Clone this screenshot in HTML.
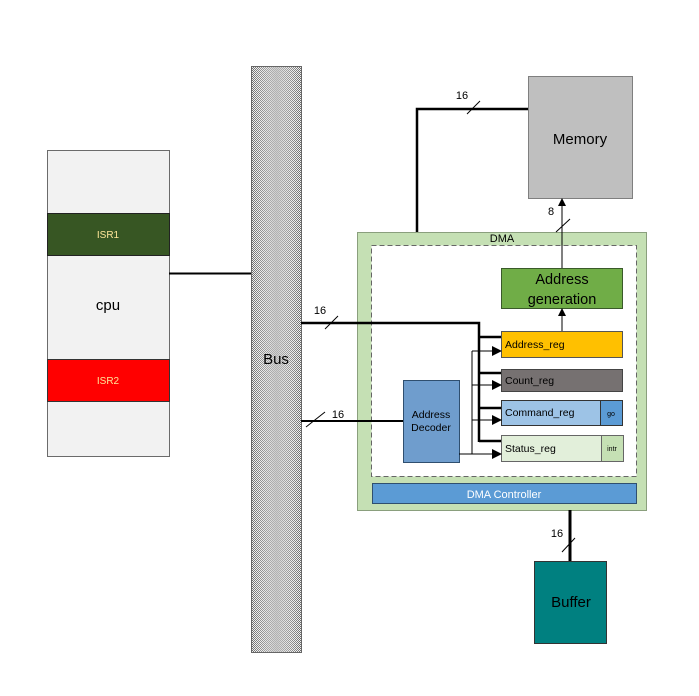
<!DOCTYPE html>
<html><head><meta charset="utf-8"><style>
html,body{margin:0;padding:0;background:#fff;}
svg{display:block;}
text{font-family:"Liberation Sans",sans-serif;}
</style></head><body>
<svg width="699" height="696" viewBox="0 0 699 696" xmlns="http://www.w3.org/2000/svg">
<defs>
<pattern id="chk" width="2" height="2" patternUnits="userSpaceOnUse">
<rect width="2" height="2" fill="#eeeeee"/>
<rect width="1" height="1" fill="#6a6a6a"/>
<rect x="1" y="1" width="1" height="1" fill="#6a6a6a"/>
</pattern>
<linearGradient id="bg" x1="0" x2="1" y1="0" y2="0">
<stop offset="0" stop-color="#fff" stop-opacity="0"/>
<stop offset="0.5" stop-color="#c4c4c4" stop-opacity="0.8"/>
<stop offset="1" stop-color="#fff" stop-opacity="0"/>
</linearGradient>
<marker id="ar" markerWidth="8" markerHeight="8" refX="7" refY="4" orient="auto" markerUnits="userSpaceOnUse">
<path d="M0,0 L8,4 L0,8 z" fill="#000"/>
</marker>
<marker id="ar2" markerWidth="10" markerHeight="10" refX="9" refY="5" orient="auto" markerUnits="userSpaceOnUse">
<path d="M0,0 L10,5 L0,10 z" fill="#000"/>
</marker>
</defs>

<!-- CPU -->
<rect x="47.5" y="150.5" width="122" height="306" fill="#f2f2f2" stroke="#6b6b6b"/>
<rect x="47.5" y="213.5" width="122" height="42" fill="#375623" stroke="#222"/>
<text x="108" y="238" font-size="10" fill="#ffe699" text-anchor="middle">ISR1</text>
<text x="108" y="310" font-size="15" fill="#000" text-anchor="middle">cpu</text>
<rect x="47.5" y="359.5" width="122" height="42" fill="#ff0000" stroke="#333"/>
<text x="108" y="384" font-size="10" fill="#ffe699" text-anchor="middle">ISR2</text>
<line x1="169" y1="273.5" x2="251" y2="273.5" stroke="#000" stroke-width="2"/>

<!-- Bus -->
<rect x="251.5" y="66.5" width="50" height="586" fill="url(#chk)" stroke="#666"/>
<rect x="252" y="67" width="49" height="585" fill="url(#bg)"/>
<text x="276" y="364" font-size="15" fill="#000" text-anchor="middle">Bus</text>

<!-- Memory -->
<rect x="528.5" y="76.5" width="104" height="122" fill="#bfbfbf" stroke="#7f7f7f"/>
<text x="580" y="144" font-size="15" fill="#000" text-anchor="middle">Memory</text>
<polyline points="417,232 417,109 528,109" fill="none" stroke="#000" stroke-width="2.5"/>
<line x1="467" y1="114" x2="480" y2="101" stroke="#000"/>
<text x="462" y="99" font-size="11" fill="#000" text-anchor="middle">16</text>

<!-- DMA -->
<rect x="357.5" y="232.5" width="289" height="278" fill="#c5e0b4" stroke="#8a9f7d"/>
<text x="502" y="242" font-size="11" fill="#000" text-anchor="middle">DMA</text>
<rect x="371.5" y="245.5" width="265" height="231" fill="#fff" stroke="#666" stroke-dasharray="5,3"/>
<rect x="372.5" y="483.5" width="264" height="20" fill="#5b9bd5" stroke="#2f4f6f"/>
<text x="504" y="498" font-size="11" fill="#fff" text-anchor="middle">DMA Controller</text>

<!-- Address generation -->
<rect x="501.5" y="268.5" width="121" height="40" fill="#70ad47" stroke="#3a5a2a"/>
<text x="562" y="284" font-size="14.5" fill="#000" text-anchor="middle">Address</text>
<text x="562" y="304" font-size="14.5" fill="#000" text-anchor="middle">generation</text>
<line x1="562" y1="268" x2="562" y2="199" stroke="#000" marker-end="url(#ar)"/>
<line x1="556" y1="232" x2="570" y2="219" stroke="#000"/>
<text x="551" y="215" font-size="11" fill="#000" text-anchor="middle">8</text>
<line x1="562" y1="331" x2="562" y2="309" stroke="#000" marker-end="url(#ar)"/>

<!-- registers -->
<rect x="501.5" y="331.5" width="121" height="26" fill="#ffc000" stroke="#555"/>
<text x="505" y="348" font-size="10.5" fill="#000">Address_reg</text>
<rect x="501.5" y="369.5" width="121" height="22" fill="#767171" stroke="#444"/>
<text x="505" y="384" font-size="10.5" fill="#000">Count_reg</text>
<rect x="501.5" y="400.5" width="121" height="25" fill="#9dc3e6" stroke="#333"/>
<rect x="600.5" y="400.5" width="22" height="25" fill="#5b9bd5" stroke="#333"/>
<text x="505" y="416" font-size="10.5" fill="#000">Command_reg</text>
<text x="611" y="416" font-size="7" fill="#000" text-anchor="middle">go</text>
<rect x="501.5" y="435.5" width="122" height="26" fill="#e2efda" stroke="#666"/>
<rect x="601.5" y="435.5" width="22" height="26" fill="#c5e0b4" stroke="#666"/>
<text x="505" y="452" font-size="10.5" fill="#000">Status_reg</text>
<text x="612" y="451" font-size="7" fill="#000" text-anchor="middle">intr</text>

<!-- Address Decoder -->
<rect x="403.5" y="380.5" width="56" height="82" fill="#6f9dcd" stroke="#2f4f6f"/>
<text x="431" y="418" font-size="10.5" fill="#000" text-anchor="middle">Address</text>
<text x="431" y="431" font-size="10.5" fill="#000" text-anchor="middle">Decoder</text>

<!-- bus line to regs -->
<polyline points="301,323 479,323 479,442" fill="none" stroke="#000" stroke-width="2.5"/>
<line x1="479" y1="337" x2="501" y2="337" stroke="#000" stroke-width="2.5"/>
<line x1="479" y1="373" x2="501" y2="373" stroke="#000" stroke-width="2.5"/>
<line x1="479" y1="408" x2="501" y2="408" stroke="#000" stroke-width="2.5"/>
<line x1="479" y1="441" x2="501" y2="441" stroke="#000" stroke-width="2.5"/>
<line x1="325" y1="329" x2="338" y2="316" stroke="#000"/>
<text x="320" y="314" font-size="11" fill="#000" text-anchor="middle">16</text>

<line x1="301" y1="421" x2="403" y2="421" stroke="#000" stroke-width="2"/>
<line x1="306" y1="427" x2="325" y2="412" stroke="#000"/>
<text x="338" y="418" font-size="11" fill="#000" text-anchor="middle">16</text>

<!-- decoder outputs -->
<polyline points="459,454 472,454 472,351" fill="none" stroke="#000"/>
<line x1="472" y1="351" x2="501" y2="351" stroke="#000" marker-end="url(#ar2)"/>
<line x1="472" y1="385" x2="501" y2="385" stroke="#000" marker-end="url(#ar2)"/>
<line x1="472" y1="420" x2="501" y2="420" stroke="#000" marker-end="url(#ar2)"/>
<line x1="472" y1="454" x2="501" y2="454" stroke="#000" marker-end="url(#ar2)"/>

<!-- Buffer -->
<line x1="570" y1="510" x2="570" y2="561" stroke="#000" stroke-width="3"/>
<line x1="562" y1="552" x2="575" y2="538" stroke="#000"/>
<text x="557" y="537" font-size="11" fill="#000" text-anchor="middle">16</text>
<rect x="534.5" y="561.5" width="72" height="82" fill="#008080" stroke="#333"/>
<text x="571" y="607" font-size="15" fill="#000" text-anchor="middle">Buffer</text>
</svg>
</body></html>
